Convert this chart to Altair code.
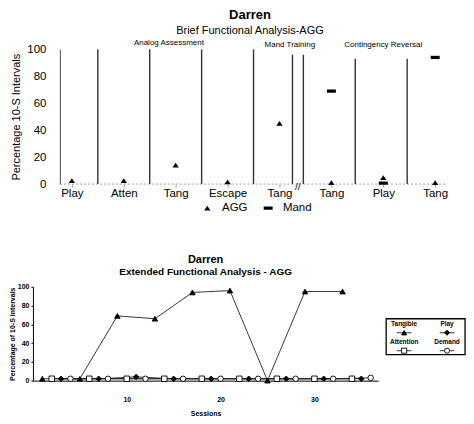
import altair as alt
import pandas as pd

FONT = "Liberation Sans"

# ---------- Brief functional analysis (top panel) ----------
brief_conditions = ["Play", "Atten", "Tang", "Escape", "Tang", "Tang", "Play", "Tang"]
brief_agg_idx = [0, 1, 2, 3, 4, 5, 6, 7]
brief_agg = [2.4, 2.4, 14, 1.5, 45, 1, 4.7, 1]
brief_mand_idx = [5, 6, 7]
brief_mand = [69, 0.7, 94]
phase_line_idx = [0.5, 1.5, 2.5, 3.5, 4.25, 4.46, 5.46, 6.46]
phase_line_top = [100, 100, 100, 100, 96, 96, 93, 93]
phase_names = ["Analog Assessment", "Mand Training", "Contingency Reversal"]
phase_name_idx = [1.87, 4.2, 6.0]
phase_name_y = [104.5, 103.5, 103.5]
top_y_ticks = [0, 20, 40, 60, 80, 100]

# ---------- Extended functional analysis (bottom panel) ----------
conds = ["Tangible", "Play", "Attention", "Demand"]
tang_sessions = [1, 5, 9, 13, 17, 21, 25, 29, 33]
tang_values = [2, 2, 69, 66, 94, 96, 0, 95, 95]
play_sessions = [3, 7, 11, 15, 19, 23, 27, 31, 35]
play_values = [2, 2, 4, 2, 2, 2, 2, 2, 2]
attn_sessions = [2, 6, 10, 14, 18, 22, 26, 30, 34]
attn_values = [2, 2, 2, 2, 2, 2, 2, 2, 2]
dem_sessions = [4, 8, 12, 16, 20, 24, 28, 32, 36]
dem_values = [2, 2, 2, 2, 2, 2, 2, 2, 3]
bottom_x_ticks = [10, 20, 30]
bottom_y_ticks = [0, 20, 40, 60, 80, 100]

# legend grid (column, row) for the boxed legend
legend_col = [0, 1, 0, 1]
legend_row = [0, 0, 1, 1]

# ================= TOP PANEL =================
xs_top = alt.Scale(domain=[-0.75, 7.19], nice=False, zero=False)
ys_top = alt.Scale(domain=[0, 100], nice=False, zero=False)

label_expr = "[" + ",".join(f"'{c}'" for c in brief_conditions) + "][datum.value]"

x_axis_top = alt.Axis(values=brief_agg_idx, labelExpr=label_expr, title=None,
                      domain=False, grid=False, ticks=True, tickSize=3,
                      tickColor="#999999", labelFont=FONT, labelFontSize=11.5,
                      labelColor="black", labelPadding=0, labelOverlap=False,
                      tickCount=len(brief_agg_idx))
y_axis_top = alt.Axis(values=top_y_ticks, tickCount=len(top_y_ticks),
                      title="Percentage 10-S Intervals",
                      offset=-27, grid=False, ticks=False, domainColor="#666666",
                      domainWidth=1.2, labelFont=FONT, labelFontSize=11.5,
                      labelColor="black", labelPadding=14, titleFont=FONT,
                      titleFontSize=11, titleFontWeight="normal",
                      titleColor="black", titlePadding=5, labelOverlap=False)

baseline_df = pd.DataFrame({"idx": [-0.23], "idx2": [7.19], "value": [0]})
baseline = alt.Chart(baseline_df).mark_rule(
    color="#a0a0a0", strokeDash=[2, 2], strokeWidth=1
).encode(
    x=alt.X("idx:Q", scale=xs_top, axis=x_axis_top),
    x2="idx2:Q",
    y=alt.Y("value:Q", scale=ys_top, axis=y_axis_top),
)

rules_df = pd.DataFrame({"idx": phase_line_idx,
                         "value": [0] * len(phase_line_idx),
                         "value2": phase_line_top})
phase_rules = alt.Chart(rules_df).mark_rule(color="#333333", strokeWidth=1.4).encode(
    x=alt.X("idx:Q", scale=xs_top),
    y=alt.Y("value:Q", scale=ys_top),
    y2="value2:Q",
)

phase_df = pd.DataFrame({"idx": phase_name_idx, "value": phase_name_y, "label": phase_names})
phase_text = alt.Chart(phase_df).mark_text(font=FONT, fontSize=8, color="black").encode(
    x=alt.X("idx:Q", scale=xs_top),
    y=alt.Y("value:Q", scale=ys_top),
    text="label:N",
)

break_df = pd.DataFrame({"idx": [4.35], "value": [-2.5], "label": ["//"]})
break_text = alt.Chart(break_df).mark_text(font=FONT, fontSize=10, color="black").encode(
    x=alt.X("idx:Q", scale=xs_top),
    y=alt.Y("value:Q", scale=ys_top),
    text="label:N",
)

pts_df = pd.DataFrame({
    "idx": brief_agg_idx + brief_mand_idx,
    "value": brief_agg + brief_mand,
    "measure": ["AGG"] * len(brief_agg) + ["Mand"] * len(brief_mand),
})
tri_path = "M0,-0.55L0.7,0.5L-0.7,0.5Z"
bar_path = "M-1,-0.36H1V0.36H-1Z"
top_points = alt.Chart(pts_df).mark_point(filled=True, color="black", opacity=1, size=81).encode(
    x=alt.X("idx:Q", scale=xs_top),
    y=alt.Y("value:Q", scale=ys_top),
    shape=alt.Shape("measure:N",
                    scale=alt.Scale(domain=["AGG", "Mand"], range=[tri_path, bar_path]),
                    legend=alt.Legend(orient="none", legendX=169, legendY=153,
                                      direction="horizontal", title=None,
                                      labelFont=FONT, labelFontSize=11.5,
                                      labelColor="black", symbolSize=81,
                                      symbolFillColor="black",
                                      symbolStrokeColor="black",
                                      symbolStrokeWidth=0, labelOffset=9,
                                      columnPadding=14)),
)

top = alt.layer(baseline, phase_rules, phase_text, break_text, top_points).properties(
    width=413, height=135,
    title=alt.TitleParams(text="Darren", subtitle="Brief Functional Analysis-AGG",
                          font=FONT, fontSize=13, fontWeight="bold", color="black",
                          subtitleFont=FONT, subtitleFontSize=11, subtitleColor="black",
                          anchor="middle", dx=11, offset=3, subtitlePadding=3),
)

# ================= BOTTOM PANEL =================
bottom_df = pd.DataFrame({
    "session": tang_sessions + play_sessions + attn_sessions + dem_sessions,
    "value": tang_values + play_values + attn_values + dem_values,
    "cond": ["Tangible"] * len(tang_sessions) + ["Play"] * len(play_sessions)
            + ["Attention"] * len(attn_sessions) + ["Demand"] * len(dem_sessions),
})
bottom_df["order"] = bottom_df["cond"].map({"Demand": 0, "Attention": 1, "Play": 2, "Tangible": 3})

xb = alt.Scale(domain=[0, 36.8], nice=False, zero=False)
yb = alt.Scale(domain=[0, 100], nice=False, zero=False)
shape_scale = alt.Scale(domain=conds, range=["triangle-up", "diamond", "square", "circle"])
fill_scale = alt.Scale(domain=conds, range=["black", "black", "white", "white"])

x_axis_b = alt.Axis(values=bottom_x_ticks, title="Sessions", grid=False, ticks=False,
                    domainColor="black", domainWidth=1, labelFont=FONT, labelFontSize=7,
                    labelFontWeight="bold", labelColor="black", labelPadding=15,
                    titleFont=FONT, titleFontSize=7, titleFontWeight="bold",
                    titleColor="black", titlePadding=7)
y_axis_b = alt.Axis(values=bottom_y_ticks, tickCount=len(bottom_y_ticks),
                    title="Percentage of 10-S Intervals",
                    grid=False, ticks=True, tickSize=2, tickColor="black",
                    domainColor="black", domainWidth=1, labelFont=FONT,
                    labelFontSize=7, labelFontWeight="bold", labelColor="black",
                    labelPadding=2, titleFont=FONT, titleFontSize=7,
                    titleFontWeight="bold", titleColor="black", titlePadding=2,
                    labelOverlap=False)

b_lines = alt.Chart(bottom_df).mark_line(color="#222222", strokeWidth=0.9).encode(
    x=alt.X("session:Q", scale=xb, axis=x_axis_b),
    y=alt.Y("value:Q", scale=yb, axis=y_axis_b),
    detail="cond:N",
)
b_points = alt.Chart(bottom_df).mark_point(filled=True, opacity=1, stroke="black",
                                           strokeWidth=0.9, size=30).encode(
    x=alt.X("session:Q", scale=xb),
    y=alt.Y("value:Q", scale=yb),
    shape=alt.Shape("cond:N", scale=shape_scale, legend=None),
    fill=alt.Fill("cond:N", scale=fill_scale, legend=None),
    order="order:Q",
)
b_main = alt.layer(b_lines, b_points)

# boxed legend with its own scales (column / slot grid)
lx = alt.Scale(domain=[-8.651, -0.605], nice=False, zero=False)
ly = alt.Scale(domain=[-4.111, 6.333], nice=False, zero=False, reverse=True)
leg_df = pd.DataFrame({
    "cond": conds,
    "col": legend_col,
    "slot_label": [2 * r for r in legend_row],
    "slot_sym": [2 * r + 1 for r in legend_row],
})
leg_df["col_a"] = leg_df["col"] - 0.17
leg_df["col_b"] = leg_df["col"] + 0.17
box_df = pd.DataFrame({"col": [-0.419], "col2": [1.419], "slot": [-0.56], "slot2": [3.44]})

leg_box = alt.Chart(box_df).mark_rect(fillOpacity=0, stroke="black", strokeWidth=1.3).encode(
    x=alt.X("col:Q", scale=lx, axis=None), x2="col2:Q",
    y=alt.Y("slot:Q", scale=ly, axis=None), y2="slot2:Q",
)
leg_text = alt.Chart(leg_df).mark_text(font=FONT, fontSize=6.5, fontWeight="bold",
                                       color="black").encode(
    x=alt.X("col:Q", scale=lx, axis=None),
    y=alt.Y("slot_label:Q", scale=ly, axis=None),
    text="cond:N",
)
leg_line = alt.Chart(leg_df).mark_rule(color="black", strokeWidth=0.8).encode(
    x=alt.X("col_a:Q", scale=lx, axis=None), x2="col_b:Q",
    y=alt.Y("slot_sym:Q", scale=ly, axis=None),
)
leg_pts = alt.Chart(leg_df).mark_point(filled=True, opacity=1, stroke="black",
                                       strokeWidth=0.9, size=26).encode(
    x=alt.X("col:Q", scale=lx, axis=None),
    y=alt.Y("slot_sym:Q", scale=ly, axis=None),
    shape=alt.Shape("cond:N", scale=shape_scale, legend=None),
    fill=alt.Fill("cond:N", scale=fill_scale, legend=None),
)
b_legend = alt.layer(leg_box, leg_text, leg_line, leg_pts)

bottom = alt.layer(b_main, b_legend).resolve_scale(x="independent", y="independent").properties(
    width=346, height=94,
    title=alt.TitleParams(text="Darren", subtitle="Extended Functional Analysis - AGG",
                          font=FONT, fontSize=11, fontWeight="bold", color="black",
                          subtitleFont=FONT, subtitleFontSize=10,
                          subtitleFontWeight="bold", subtitleColor="black",
                          anchor="middle", offset=6, subtitlePadding=2),
)

chart = alt.vconcat(top, bottom, spacing=40).resolve_scale(
    shape="independent", fill="independent"
).resolve_legend(shape="independent", fill="independent").properties(
    padding=0
).configure_view(stroke=None).configure_axis(grid=False)

chart.save("out.html", embed_options={"renderer": "svg", "actions": False})
